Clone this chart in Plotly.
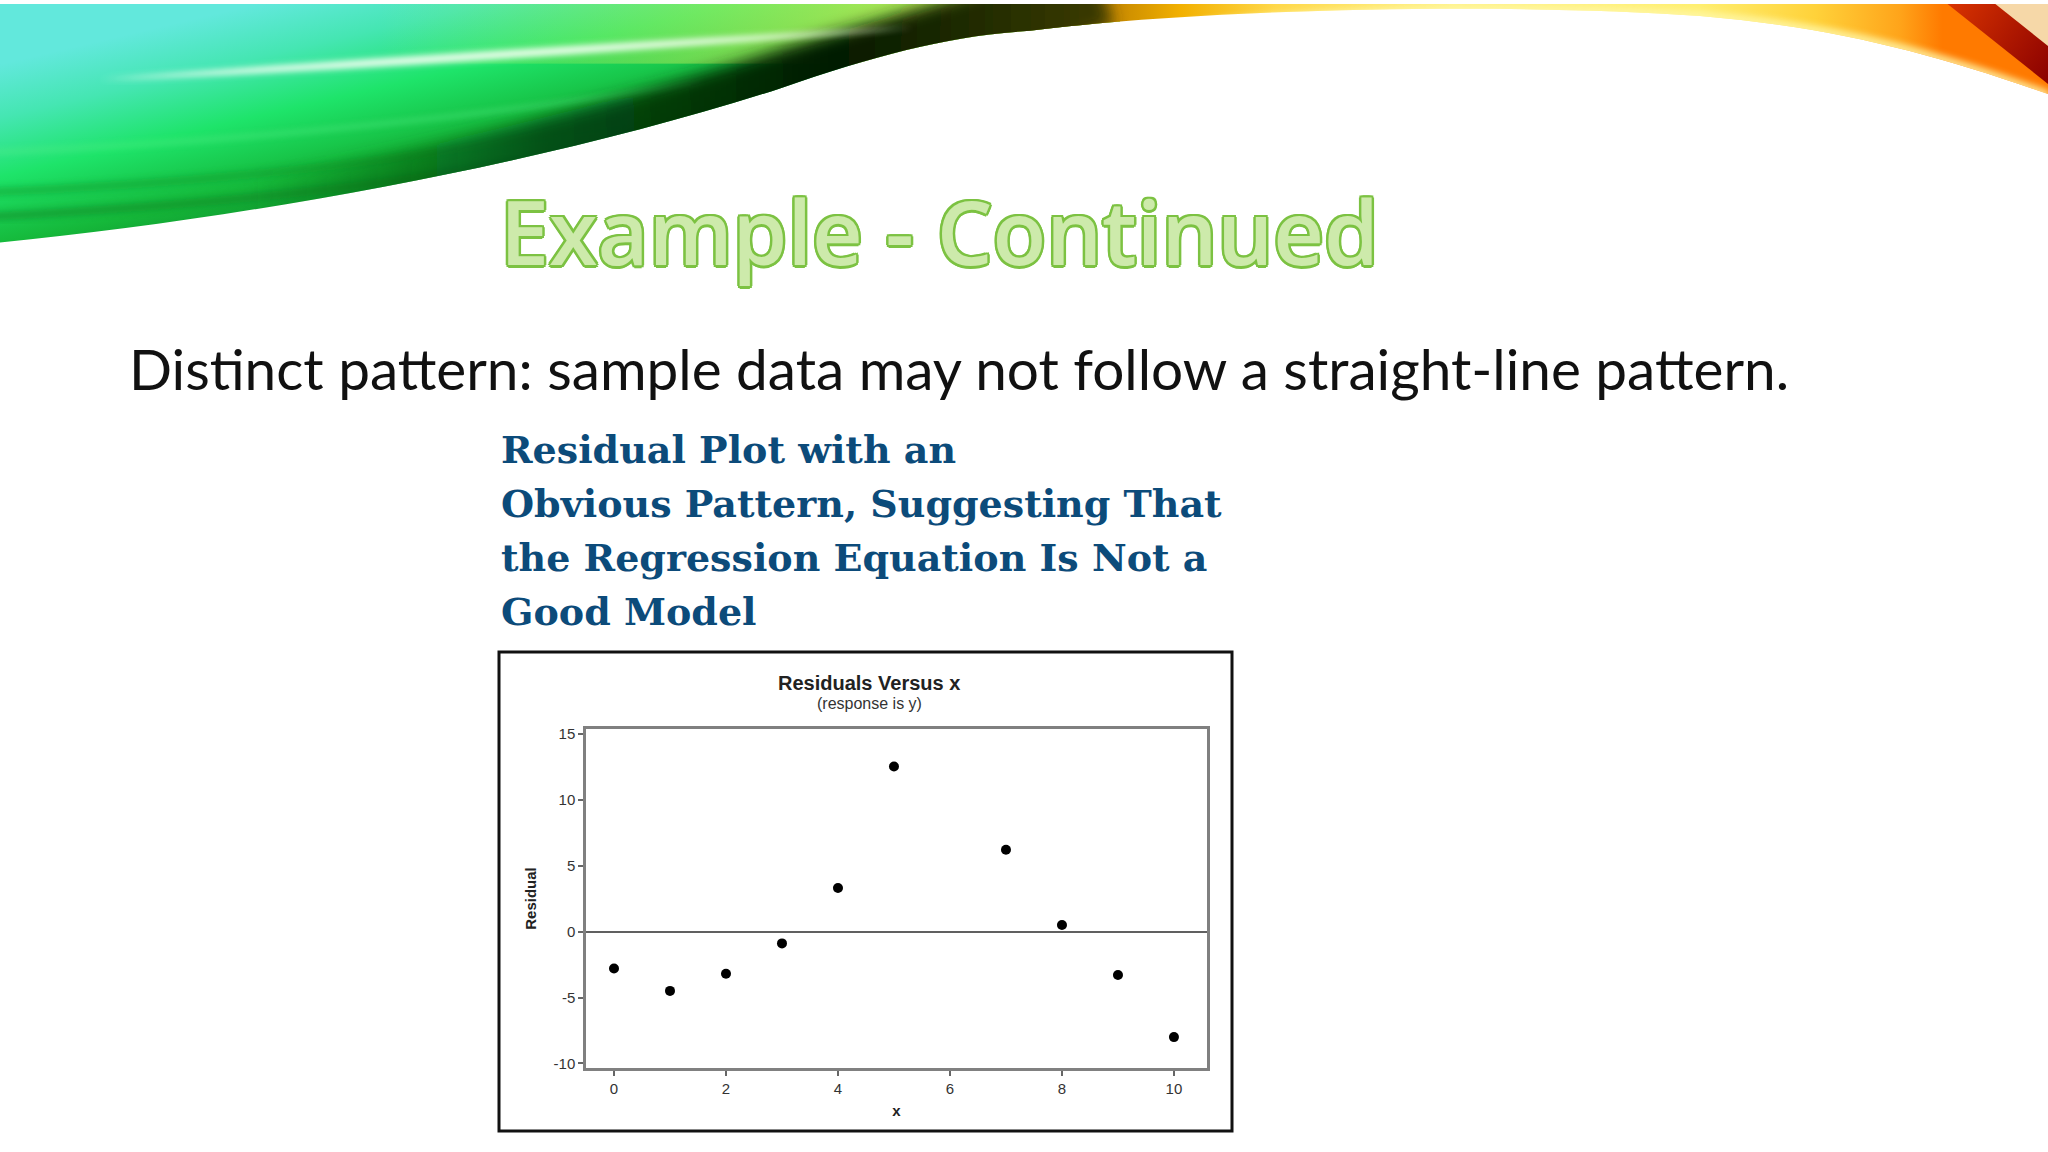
import base64
import plotly.graph_objects as go

W, H = 2048, 1152

# residual plot data
x_vals = [0, 1, 2, 3, 4, 5, 7, 8, 9, 10]
residuals = [-2.8, -4.5, -3.2, -0.9, 3.3, 12.5, 6.2, 0.5, -3.3, -8.0]

x_ticks = [0, 2, 4, 6, 8, 10]
y_ticks = [-10, -5, 0, 5, 10, 15]
y_tick_labels = ["-10", "-5", "0", "5", "10", "15"]

slide_title = "Example - Continued"
slide_text = "Distinct pattern: sample data may not follow a straight-line pattern."
caption_lines = ["Residual Plot with an", "Obvious Pattern, Suggesting That",
                 "the Regression Equation Is Not a", "Good Model"]
chart_title = "Residuals Versus x"
chart_subtitle = "(response is y)"


def px(x):
    return x / W


def py(y):
    return 1 - y / H


# background swoosh drawn as an svg picture
edge = ("M-30,-30 L2080,-30 L2080,102 C1950,55 1850,25 1700,12 C1500,-2 1200,5 1030,27 "
        "C950,32 880,50 780,85 C550,160 250,215 0,240 L-30,243 Z")
svg = f'''<svg xmlns="http://www.w3.org/2000/svg" width="2048" height="1152" viewBox="0 0 2048 1152">
<defs>
 <linearGradient id="gGreen" gradientUnits="userSpaceOnUse" x1="300" y1="-10" x2="360" y2="245">
  <stop offset="0" stop-color="#62e8dc"/>
  <stop offset="0.2" stop-color="#45e6b2"/>
  <stop offset="0.42" stop-color="#1ee46a"/>
  <stop offset="0.68" stop-color="#15b83a"/>
  <stop offset="1" stop-color="#0a7020"/>
 </linearGradient>
 <linearGradient id="gLime" gradientUnits="userSpaceOnUse" x1="380" y1="0" x2="1000" y2="0">
  <stop offset="0" stop-color="#b8f060" stop-opacity="0"/>
  <stop offset="1" stop-color="#d2ec52" stop-opacity="0.95"/>
 </linearGradient>
 <linearGradient id="gDark" gradientUnits="userSpaceOnUse" x1="250" y1="0" x2="1100" y2="0">
  <stop offset="0" stop-color="#0a5a12" stop-opacity="0"/>
  <stop offset="0.35" stop-color="#063c0a" stop-opacity="0.8"/>
  <stop offset="0.68" stop-color="#021a02" stop-opacity="1"/>
  <stop offset="1" stop-color="#3b3a05" stop-opacity="1"/>
 </linearGradient>
 <linearGradient id="gGold" gradientUnits="userSpaceOnUse" x1="990" y1="0" x2="2048" y2="0">
  <stop offset="0" stop-color="#2c3a05" stop-opacity="0"/>
  <stop offset="0.07" stop-color="#6b5a00"/>
  <stop offset="0.12" stop-color="#c88a00"/>
  <stop offset="0.18" stop-color="#f2b000"/>
  <stop offset="0.27" stop-color="#ffd84a"/>
  <stop offset="0.44" stop-color="#fff38a"/>
  <stop offset="0.67" stop-color="#ffef70"/>
  <stop offset="0.78" stop-color="#ffd23a"/>
  <stop offset="0.86" stop-color="#ffa41a"/>
  <stop offset="0.9" stop-color="#ff7a00"/>
  <stop offset="1" stop-color="#ff7a00"/>
 </linearGradient>
 <linearGradient id="gRed" gradientUnits="userSpaceOnUse" x1="1930" y1="0" x2="2048" y2="80">
  <stop offset="0" stop-color="#e23a00"/>
  <stop offset="1" stop-color="#8a0000"/>
 </linearGradient>
 <filter id="blur8"><feGaussianBlur stdDeviation="8"/></filter>
 <filter id="blur3"><feGaussianBlur stdDeviation="3"/></filter>
 <clipPath id="cAll"><path d="{edge}"/></clipPath>
</defs>
<g clip-path="url(#cAll)">
 <rect x="-30" y="-30" width="1150" height="290" fill="url(#gGreen)"/>
 <rect x="-30" y="-30" width="1150" height="90" fill="url(#gLime)"/>
 <rect x="990" y="-30" width="1090" height="150" fill="url(#gGold)"/>
 <path d="M1150,30 C1300,8 1500,4 1700,14 C1850,26 1950,58 2048,94" stroke="#fff7a8" stroke-width="14" fill="none" opacity="0.8" filter="url(#blur3)"/>
 <path d="M-30,150 C250,140 500,110 700,80" stroke="#5cf08a" stroke-width="4" fill="none" opacity="0.5" filter="url(#blur3)"/>
 <path d="M-30,190 C250,180 450,150 620,118" stroke="#0f9a2c" stroke-width="8" fill="none" opacity="0.5" filter="url(#blur3)"/>
 <path d="M-30,215 C250,200 400,180 520,158" stroke="#0b8024" stroke-width="8" fill="none" opacity="0.5" filter="url(#blur3)"/>
 <path d="M150,232 C450,185 650,128 780,85 C880,55 990,25 1100,-15" stroke="url(#gDark)" stroke-width="76" fill="none" filter="url(#blur8)"/>
 <path d="M100,76 C350,55 650,36 915,24 C650,46 350,68 100,76 Z" fill="#f6fff4" opacity="0.95" filter="url(#blur3)"/>
 <path d="M1958,-30 L2080,-30 L2080,48 L2048,48 Z" fill="#f6d8a8"/>
 <path d="M1910,-30 L1958,-30 L2080,68 L2080,106 Z" fill="url(#gRed)"/>
</g>
</svg>'''
svg_uri = "data:image/svg+xml;base64," + base64.b64encode(svg.encode("utf-8")).decode("ascii")

chart_font = "Liberation Sans Narrow, Liberation Sans, Arial, sans-serif"

fig = go.Figure()
fig.add_trace(go.Scatter(
    x=x_vals, y=residuals, mode="markers",
    marker=dict(color="#000000", size=10),
    showlegend=False, hoverinfo="x+y",
))

outline = "#7cc242"
shadow = ", ".join(f"{dx}px {dy}px 0 {outline}" for dx, dy in
                   [(2.5, 0), (-2.5, 0), (0, 2.5), (0, -2.5), (1.8, 1.8), (-1.8, -1.8), (1.8, -1.8), (-1.8, 1.8)])

annotations = [
    dict(text=slide_title, x=px(939), y=py(228), xanchor="center", yanchor="middle",
         font=dict(family="Open Sans, Lato, sans-serif", size=88, color="#cdeaab", weight=600, shadow=shadow)),
    dict(text=slide_text, x=px(127), y=py(366), xanchor="left", yanchor="middle",
         font=dict(family="Lato, Open Sans, sans-serif", size=56.7, color="#111111")),
    dict(text=chart_title, x=px(869), y=py(683), xanchor="center", yanchor="middle",
         font=dict(family=chart_font, size=20, color="#222222", weight="bold")),
    dict(text=chart_subtitle, x=px(869), y=py(704), xanchor="center", yanchor="middle",
         font=dict(family=chart_font, size=16, color="#333333")),
]
for i, line in enumerate(caption_lines):
    annotations.append(dict(
        text=line, x=px(499), y=py(448 + 54.4 * i), xanchor="left", yanchor="middle",
        font=dict(family="DejaVu Serif, serif", size=38, color="#0c4b7a", weight="bold")))
for a in annotations:
    a.update(xref="paper", yref="paper", showarrow=False)

axis_common = dict(
    ticks="outside", ticklen=5, tickwidth=1.5, tickcolor="#666666",
    showline=True, linecolor="#808080", linewidth=2.5, mirror=True,
    showgrid=False, tickfont=dict(family=chart_font, size=15, color="#333333"),
)

fig.update_layout(
    width=W, height=H,
    margin=dict(l=0, r=0, t=0, b=0),
    paper_bgcolor="#ffffff", plot_bgcolor="#ffffff",
    xaxis=dict(domain=[px(586), px(1207)], range=[-0.5, 10.59], tickvals=x_ticks,
               zeroline=False,
               title=dict(text="x", standoff=10, font=dict(family=chart_font, size=15, color="#222222", weight="bold")),
               **axis_common),
    yaxis=dict(domain=[py(1071), py(729)], range=[-10.38, 15.38], tickvals=y_ticks, ticktext=y_tick_labels,
               zeroline=True, zerolinecolor="#606060", zerolinewidth=2,
               title=dict(text="Residual", standoff=14, font=dict(family=chart_font, size=15, color="#222222", weight="bold")),
               **axis_common),
    annotations=annotations,
    shapes=[dict(type="rect", xref="paper", yref="paper", x0=px(499), x1=px(1232), y0=py(1134), y1=py(652),
                 line=dict(color="#111111", width=3), fillcolor="rgba(0,0,0,0)")],
    images=[dict(source=svg_uri, xref="paper", yref="paper", x=0, y=1, sizex=1, sizey=1,
                 xanchor="left", yanchor="top", sizing="stretch", layer="below")],
)

# pin the figure to the top-left corner of the page
pin = ("document.body.style.margin='0';"
       "var d=document.getElementById('{plot_id}');"
       "d.style.position='absolute';d.style.top='0px';d.style.left='0px';")
fig.write_html("out.html", config={"displayModeBar": False}, post_script=pin)
